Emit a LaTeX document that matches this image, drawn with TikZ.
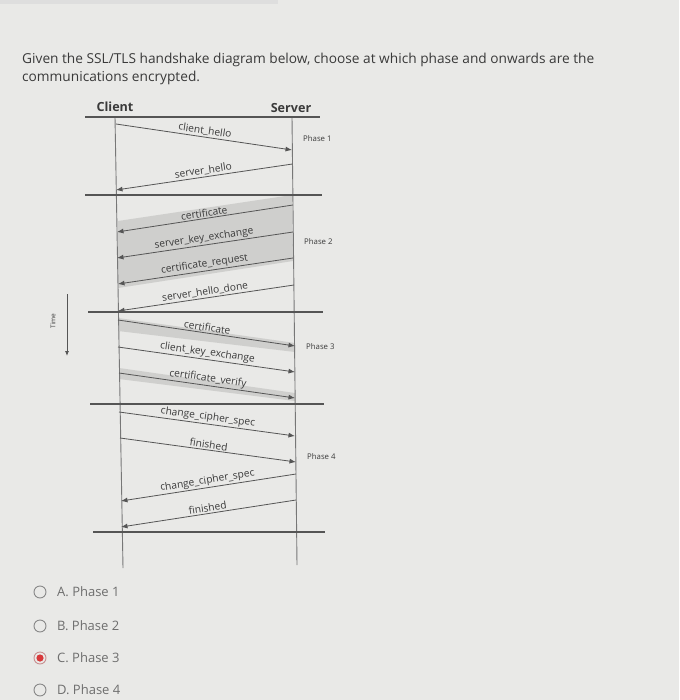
\documentclass[tikz,border=0pt]{standalone}
\usepackage{fontspec}
\setmainfont{Open Sans}
\usetikzlibrary{arrows.meta}
\definecolor{bg}{HTML}{E9E9E7}
\definecolor{ink}{HTML}{555555}
\definecolor{txt}{HTML}{3A3A3A}
\definecolor{band}{HTML}{CFCFCD}
\definecolor{sel}{HTML}{D8393B}
\begin{document}
\begin{tikzpicture}[x=1pt,y=-1pt,
  msg/.style={draw=ink, line width=0.8pt, -{Latex[length=6.5pt,width=5pt]}},
  msglabel/.style={midway, above, sloped, inner sep=1.2pt, font=\fontsize{10.2}{11}\selectfont, text=txt},
  sep/.style={draw=ink, line width=1.6pt},
  life/.style={draw=ink!80, line width=0.9pt},
  phase/.style={font=\fontsize{7.8}{8}\selectfont, text=txt, anchor=west, inner sep=0pt},
  opt/.style={circle, draw=ink!70, line width=0.9pt, minimum size=12pt, inner sep=0pt},
  optlabel/.style={anchor=west, font=\fontsize{13}{14}\selectfont, text=ink!85, inner sep=0pt}]
\useasboundingbox (0,0) rectangle (679,700);
\fill[bg] (0,0) rectangle (679,700);
\fill[black!13] (0,0) rectangle (278,4);

% question
\node[anchor=north west, align=left, inner sep=0pt, text=txt, font=\fontsize{13.7}{18}\selectfont] (q) at (22,52.5)
  {Given the SSL/TLS handshake diagram below, choose at which phase and onwards are the\\communications encrypted.};

% headers
\node[font=\bfseries\fontsize{12.6}{13}\selectfont, text=txt] (client) at (115,107) {Client};
\node[font=\bfseries\fontsize{12.6}{13}\selectfont, text=txt] (server) at (291,108) {Server};

% bands
\fill[band] (118,221) -- (292,195) -- (293,261) -- (118,288) -- cycle;
\fill[band] (118,318) -- (295,343) -- (295,352) -- (118,331) -- cycle;
\fill[band] (119,368) -- (295,393) -- (295,401) -- (119,379) -- cycle;

% lifelines
\coordinate (ct) at (115,117); \coordinate (cb) at (123,568);
\coordinate (st) at (292,117); \coordinate (sb) at (297,565);
\draw[life] (ct) -- (cb);
\draw[life] (st) -- (sb);

% separators
\coordinate (s0a) at (85,117);  \coordinate (s0b) at (320,117);
\coordinate (s1a) at (85,195);  \coordinate (s1b) at (322,195);
\coordinate (s2a) at (88,312);  \coordinate (s2b) at (323,312);
\coordinate (s3a) at (90,404);  \coordinate (s3b) at (324,404);
\coordinate (s4a) at (93,532);  \coordinate (s4b) at (325,532);
\draw[sep] (s0a) -- (s0b);
\draw[sep] (s1a) -- (s1b);
\draw[sep] (s2a) -- (s2b);
\draw[sep] (s3a) -- (s3b);
\draw[sep] (s4a) -- (s4b);

% message endpoints
\coordinate (m1a) at (116,124);   \coordinate (m1b) at (292,150);
\coordinate (m2a) at (292.5,164); \coordinate (m2b) at (116,190);
\coordinate (m3a) at (293,205);   \coordinate (m3b) at (117,232);
\coordinate (m4a) at (293,232);   \coordinate (m4b) at (117,258);
\coordinate (m5a) at (293,258);   \coordinate (m5b) at (118,284);
\coordinate (m6a) at (294,285);   \coordinate (m6b) at (118,311);
\coordinate (m7a) at (118,320);   \coordinate (m7b) at (295,346);
\coordinate (m8a) at (118,347);   \coordinate (m8b) at (295,372);
\coordinate (m9a) at (119,373);   \coordinate (m9b) at (295,398);
\coordinate (m10a) at (119,412);  \coordinate (m10b) at (295,436);
\coordinate (m11a) at (120,438);  \coordinate (m11b) at (296,462);
\coordinate (m12a) at (296,474);  \coordinate (m12b) at (121,501);
\coordinate (m13a) at (296,500);  \coordinate (m13b) at (121,527);

\draw[msg] (m1a) -- node[msglabel] {client\_hello} (m1b);
\draw[msg] (m2a) -- node[msglabel] {server\_hello} (m2b);
\draw[msg] (m3a) -- node[msglabel] {certificate} (m3b);
\draw[msg] (m4a) -- node[msglabel] {server\_key\_exchange} (m4b);
\draw[msg] (m5a) -- node[msglabel] {certificate\_request} (m5b);
\draw[msg] (m6a) -- node[msglabel] {server\_hello\_done} (m6b);
\draw[msg] (m7a) -- node[msglabel] {certificate} (m7b);
\draw[msg] (m8a) -- node[msglabel] {client\_key\_exchange} (m8b);
\draw[msg] (m9a) -- node[msglabel] {certificate\_verify} (m9b);
\draw[msg] (m10a) -- node[msglabel] {change\_cipher\_spec} (m10b);
\draw[msg] (m11a) -- node[msglabel] {finished} (m11b);
\draw[msg] (m12a) -- node[msglabel] {change\_cipher\_spec} (m12b);
\draw[msg] (m13a) -- node[msglabel] {finished} (m13b);

% phase labels
\node[phase] (p1) at (303,139) {Phase 1};
\node[phase] (p2) at (304,242) {Phase 2};
\node[phase] (p3) at (306,347) {Phase 3};
\node[phase] (p4) at (307,457) {Phase 4};

% time arrow
\coordinate (ta) at (67,294); \coordinate (tb) at (67,356);
\draw[draw=ink, line width=0.8pt, -{Latex[length=5pt,width=4pt]}] (ta) -- (tb);
\node[rotate=90, font=\fontsize{6.5}{7}\selectfont, text=txt] (time) at (53,321) {Time};

% options
\node[opt] (oa) at (40,592) {};
\node[optlabel] (la) at (57,592) {A. Phase 1};
\node[opt] (ob) at (40,626) {};
\node[optlabel] (lb) at (57,626) {B. Phase 2};
\node[opt, draw=sel!60!ink!60] (oc) at (40,658) {};
\fill[sel] (oc.center) circle (3.6pt);
\node[optlabel] (lc) at (57,658) {C. Phase 3};
\node[opt] (od) at (40,690) {};
\node[optlabel] (ld) at (57,690) {D. Phase 4};
\end{tikzpicture}
\end{document}
